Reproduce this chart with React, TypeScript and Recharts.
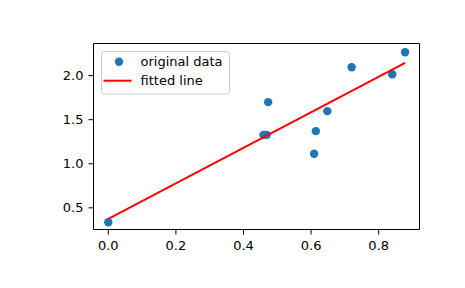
import { ScatterChart, Scatter, XAxis, YAxis, ReferenceArea, Legend } from 'recharts';

const xValues = [0.0, 0.459, 0.469, 0.473, 0.609, 0.614, 0.648, 0.72, 0.84, 0.878];
const yValues = [0.337, 1.328, 1.328, 1.699, 1.113, 1.37, 1.597, 2.095, 2.016, 2.265];

// Fitted line end points (straight line, so two points are enough)
const fitX = [0.0, 0.878];
const fitY = [0.375, 2.144];

const xTicks = [0, 0.2, 0.4, 0.6, 0.8];
const yTicks = [0.5, 1.0, 1.5, 2.0];
const xDomain: [number, number] = [-0.0438, 0.9207];
const yDomain: [number, number] = [0.2545, 2.364];

const BLUE = '#1f77b4';
const RED = '#ff0000';
const FONT = '"DejaVu Sans", sans-serif';

const points = xValues.map((x, i) => ({ x, y: yValues[i] }));
const fitted = fitX.map((x, i) => ({ x, y: fitY[i] }));

const tickStyle = { fontSize: 13, fill: '#000', fontFamily: FONT };

// matplotlib-style legend: rounded light-grey frame, marker/line handles on the left
function LegendBox() {
  return (
    <svg width={129} height={44} style={{ display: 'block' }}>
      <rect x={0.5} y={0.5} width={128} height={42.5} rx={3} fill="#fff" fillOpacity={0.8} stroke="#cccccc" />
      <circle cx={18} cy={10.8} r={4.2} fill={BLUE} />
      <line x1={2.5} x2={30.5} y1={29.7} y2={29.7} stroke={RED} strokeWidth={2} />
      <text x={39.5} y={14.8} fontSize={13} fontFamily={FONT} fill="#000">original data</text>
      <text x={39.5} y={33.5} fontSize={13} fontFamily={FONT} fill="#000">fitted line</text>
    </svg>
  );
}

export default function App() {
  return (
    <div style={{ position: 'absolute', left: 0, top: 0, width: 465, height: 288, background: '#fff' }}>
      <ScatterChart width={465} height={288} margin={{ top: 43.5, right: 45.5, bottom: 28.5, left: 0.5 }}>
        <XAxis
          type="number"
          dataKey="x"
          domain={xDomain}
          ticks={xTicks}
          allowDataOverflow
          tickFormatter={(v: number) => v.toFixed(1)}
          tick={tickStyle}
          tickSize={5}
          tickMargin={6}
          tickLine={{ stroke: '#000', strokeWidth: 1 }}
          axisLine={false}
          height={30}
        />
        <YAxis
          type="number"
          dataKey="y"
          domain={yDomain}
          ticks={yTicks}
          allowDataOverflow
          tickFormatter={(v: number) => v.toFixed(1)}
          tick={tickStyle}
          tickSize={5}
          tickMargin={5}
          tickLine={{ stroke: '#000', strokeWidth: 1 }}
          axisLine={false}
          width={93}
        />
        {/* centre + middle keeps the legend from reserving any chart space */}
        <Legend
          layout="horizontal"
          verticalAlign="middle"
          align="center"
          wrapperStyle={{ top: 50.5, left: 100.5, width: 'auto', height: 'auto', lineHeight: 0 }}
          content={() => <LegendBox />}
        />
        <Scatter
          data={points}
          isAnimationActive={false}
          shape={(p: any) => <circle cx={p.cx} cy={p.cy} r={4.2} fill={BLUE} />}
        />
        <Scatter
          data={fitted}
          isAnimationActive={false}
          line={{ stroke: RED, strokeWidth: 2 }}
          lineType="joint"
          shape={() => <g />}
        />
        <ReferenceArea
          x1={xDomain[0]}
          x2={xDomain[1]}
          y1={yDomain[0]}
          y2={yDomain[1]}
          fill="none"
          stroke="#000"
          strokeWidth={1}
          ifOverflow="visible"
        />
      </ScatterChart>
    </div>
  );
}
